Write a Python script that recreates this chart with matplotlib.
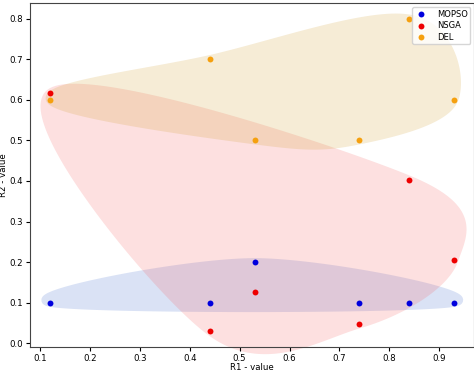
import numpy as np
import matplotlib
matplotlib.use("Agg")
import matplotlib.pyplot as plt

# ---- data ----
r1 = [0.12, 0.44, 0.53, 0.74, 0.84, 0.93]
mopso_r2 = [0.1, 0.1, 0.2, 0.1, 0.1, 0.1]
nsga_r2 = [0.617, 0.03, 0.127, 0.047, 0.403, 0.205]
del_r2 = [0.6, 0.7, 0.5, 0.5, 0.8, 0.6]
series_names = ["MOPSO", "NSGA", "DEL"]
point_colors = ["#0000dd", "#ee0000", "#f5a00f"]
fill_colors = ["#4670d0", "#f56464", "#d2a032"]
fill_alpha = 0.2


def convex_hull(pts):
    pts = sorted(set(map(tuple, pts)))
    def cross(o, a, b):
        return (a[0]-o[0])*(b[1]-o[1]) - (a[1]-o[1])*(b[0]-o[0])
    lower = []
    for p in pts:
        while len(lower) >= 2 and cross(lower[-2], lower[-1], p) <= 0:
            lower.pop()
        lower.append(p)
    upper = []
    for p in reversed(pts):
        while len(upper) >= 2 and cross(upper[-2], upper[-1], p) <= 0:
            upper.pop()
        upper.append(p)
    return np.array(lower[:-1] + upper[:-1])


def cardinal_closed(P, scale=1.05, n=60):
    # closed cardinal (Catmull-Rom type) spline through the hull vertices
    N = len(P)
    t = np.linspace(0.0, 1.0, n, endpoint=False)[:, None]
    h00 = 2*t**3 - 3*t**2 + 1
    h10 = t**3 - 2*t**2 + t
    h01 = -2*t**3 + 3*t**2
    h11 = t**3 - t**2
    segs = []
    for i in range(N):
        p0, p1 = P[i], P[(i+1) % N]
        m0 = scale*(P[(i+1) % N] - P[(i-1) % N])/2
        m1 = scale*(P[(i+2) % N] - P[i])/2
        segs.append(h00*p0 + h10*m0 + h01*p1 + h11*m1)
    return np.vstack(segs)


def smooth_hull(x, y, sx, sy, pad=4.0):
    C = cardinal_closed(convex_hull(np.c_[x, y]))
    px, py = C[:, 0]*sx, C[:, 1]*sy
    dx = np.roll(px, -1) - np.roll(px, 1)
    dy = np.roll(py, -1) - np.roll(py, 1)
    nrm = np.hypot(dx, dy)
    nrm[nrm == 0] = 1.0
    px = px + pad*dy/nrm
    py = py - pad*dx/nrm
    return px/sx, py/sy


W, H = 474, 371
fig = plt.figure(figsize=(W/100, H/100), dpi=100)
ax_w, ax_h = 444.6, 343.9
ax = fig.add_axes([29.8/W, 1-346.8/H, ax_w/W, ax_h/H])

all_r2 = [mopso_r2, nsga_r2, del_r2]
for name, ys, pc in zip(series_names, all_r2, point_colors):
    ax.scatter(r1, ys, s=18, color=pc, label=name, zorder=3, linewidths=0)

allx = np.array(r1 * 3)
ally = np.concatenate(all_r2)
mx = 0.05*(allx.max()-allx.min())
my = 0.05*(ally.max()-ally.min())
x0, x1 = allx.min()-mx, allx.max()+mx
y0, y1 = ally.min()-my, ally.max()+my
ax.set_xlim(x0, x1)
ax.set_ylim(y0, y1)
ax.autoscale(False)
sx = ax_w/(x1-x0)
sy = ax_h/(y1-y0)

for ys, fc in zip(all_r2, fill_colors):
    hx, hy = smooth_hull(np.array(r1), np.array(ys), sx, sy)
    ax.fill(hx, hy, color=fc, alpha=fill_alpha, lw=0, clip_on=False, zorder=1)

ax.set_xticks(np.arange(0.1, 0.95, 0.1))
ax.set_yticks(np.arange(0.0, 0.85, 0.1))
ax.tick_params(labelsize=6.2, length=3, width=0.8, pad=2)
ax.set_xlabel("R1 - value", fontsize=6.2, labelpad=0)
ax.set_ylabel("R2 - value", fontsize=6.2, labelpad=1)
for s in ax.spines.values():
    s.set_color("#444444")
ax.legend(loc="upper right", fontsize=6, handlelength=1.6, handletextpad=1.1,
          borderpad=0.3, labelspacing=0.3, borderaxespad=0.5)

fig.savefig("out.png", dpi=100)
